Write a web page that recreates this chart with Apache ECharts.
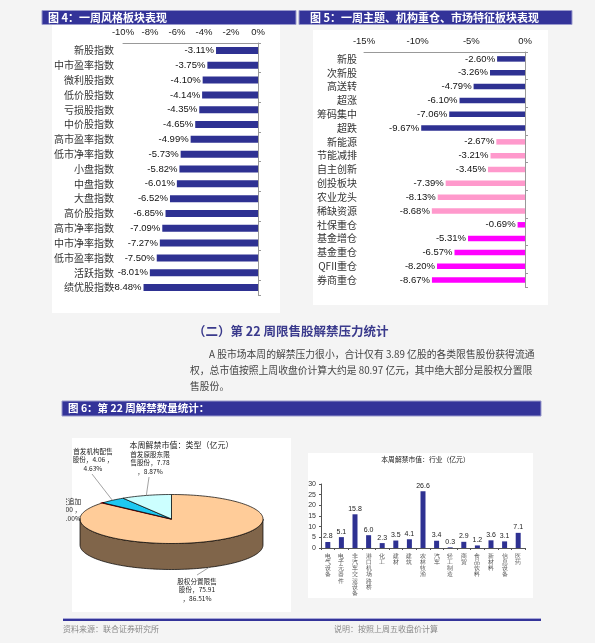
<!DOCTYPE html>
<html>
<head>
<meta charset="utf-8">
<script src="https://cdn.jsdelivr.net/npm/echarts@6/dist/echarts.min.js"></script>
<style>
  html, body { margin: 0; padding: 0; background: #f4f4f4; }
  #main { position: absolute; left: 0; top: 0; width: 595px; height: 643px; }
  #pie { position: absolute; left: 66px; top: 438px; width: 226px; height: 175px; }
</style>
</head>
<body>
<div id="main"></div>
<div id="pie"></div>
<script>
// 图4 一周风格板块表现
const styleCats = ['新股指数', '中市盈率指数', '微利股指数', '低价股指数', '亏损股指数', '中价股指数', '高市盈率指数',
  '低市净率指数', '小盘指数', '中盘指数', '大盘指数', '高价股指数', '高市净率指数', '中市净率指数', '低市盈率指数',
  '活跃指数', '绩优股指数'];
const styleVals = [-3.11, -3.75, -4.10, -4.14, -4.35, -4.65, -4.99, -5.73, -5.82, -6.01, -6.52, -6.85, -7.09, -7.27,
  -7.50, -8.01, -8.48];

// 图5 主题、机构重仓、市场特征
const themeCats = ['新股', '次新股', '高送转', '超涨', '筹码集中', '超跌', '新能源', '节能减排', '自主创新', '创投板块',
  '农业龙头', '稀缺资源', '社保重仓', '基金增仓', '基金重仓', 'QFII重仓', '券商重仓'];
const themeVals = [-2.60, -3.26, -4.79, -6.10, -7.06, -9.67, -2.67, -3.21, -3.45, -7.39, -8.13, -8.68, -0.69, -5.31,
  -6.57, -8.20, -8.67];
const themeGroups = ['特征', '特征', '特征', '特征', '特征', '特征', '主题', '主题', '主题', '主题', '主题', '主题',
  '重仓', '重仓', '重仓', '重仓', '重仓'];

// 解禁市值：行业（亿元）
const indCats = ['电气设备', '电子元器件', '非汽车交运设备', '港口机场路桥', '化工', '建材', '建筑', '农林牧渔', '汽车',
  '轻工制造', '商贸', '食品饮料', '新材料', '信息设备', '医药'];
const indVals = [2.8, 5.1, 15.8, 6.0, 2.3, 3.5, 4.1, 26.6, 3.4, 0.3, 2.9, 1.2, 3.6, 3.1, 7.1];

// 解禁市值：类型（亿元）
const pieNames = ['股权分置限售股份', '定向增发追加股份', '首发机构配售股份', '首发原股东限售股份'];
const pieVals = [75.91, 0.004, 4.06, 7.78];
const piePcts = [86.51, 0.00, 4.63, 8.87];

const CJK = '"Noto Sans CJK SC", sans-serif';
const LAT = '"Liberation Sans", Arial, sans-serif';
const NAVY = '#2e3192';
const groupColor = { '特征': NAVY, '主题': '#ff99cc', '重仓': '#ff00ff' };

function txt(x, y, text, size, color, opts) {
  opts = opts || {};
  return {
    type: 'text', x: x, y: y, z: 5,
    style: {
      text: text, fill: color,
      font: (opts.weight || 'normal') + ' ' + size + 'px ' + (opts.family || CJK),
      textAlign: opts.align || 'left', textVerticalAlign: 'middle', verticalAlign: 'middle'
    }
  };
}
function box(x, y, w, h, fill, stroke) {
  return { type: 'rect', z: 0, shape: { x: x, y: y, width: w, height: h },
    style: { fill: fill, stroke: stroke || null, lineWidth: stroke ? 1 : 0 } };
}

const main = echarts.init(document.getElementById('main'));
const pctLabel = p => p.value.toFixed(2) + '%';

main.setOption({
  animation: false,
  graphic: [
    box(52, 25, 228, 288, '#ffffff'),
    box(313, 30, 235, 275, '#ffffff'),
    box(72, 438, 219, 174, '#ffffff'),
    box(308, 453, 225, 145, '#ffffff'),
    box(42, 10.5, 254, 14, '#333399', '#9a9acc'),
    box(299, 10.5, 273, 14, '#333399', '#9a9acc'),
    box(62, 401, 479, 15, '#333399', '#9a9acc'),
    txt(48, 17.5, '图 4：一周风格板块表现', 11, '#ffffff', { weight: 'bold' }),
    txt(310, 17.5, '图 5：一周主题、机构重仓、市场特征板块表现', 11, '#ffffff', { weight: 'bold' }),
    txt(68, 408.5, '图 6：第 22 周解禁数量统计：', 10.5, '#ffffff', { weight: 'bold' }),
    txt(193, 331, '（二）第 22 周限售股解禁压力统计', 12.5, '#3a3a8c', { weight: 'bold' }),
    txt(209, 354, 'A 股市场本周的解禁压力很小，合计仅有 3.89 亿股的各类限售股份获得流通', 9.8, '#444444'),
    txt(190, 370, '权，总市值按照上周收盘价计算大约是 80.97 亿元，其中绝大部分是股权分置限', 9.8, '#444444'),
    txt(190, 386, '售股份。', 9.8, '#444444'),
    txt(425.5, 459, '本周解禁市值：行业（亿元）', 6.8, '#222222', { align: 'center' }),
    box(63, 618, 478, 1, '#a8a8d8'),
    box(63, 619, 478, 2, '#333399'),
    txt(63, 629, '资料来源：联合证券研究所', 8, '#8a8a8a'),
    txt(334, 629, '说明：按照上周五收盘价计算', 8, '#8a8a8a')
  ],
  grid: [
    { left: 123, top: 43, width: 135, height: 252 },
    { left: 364, top: 52, width: 161, height: 235 },
    { left: 321, top: 484, width: 204, height: 64 }
  ],
  xAxis: [
    { gridIndex: 0, type: 'value', position: 'top', min: -10, max: 0, interval: 2,
      axisLine: { show: true, lineStyle: { color: '#999999' } }, axisTick: { show: false }, splitLine: { show: false },
      axisLabel: { formatter: '{value}%', fontSize: 9.5, fontFamily: LAT, color: '#222222', margin: 6 } },
    { gridIndex: 1, type: 'value', position: 'top', min: -15, max: 0, interval: 5,
      axisLine: { show: true, lineStyle: { color: '#999999' } }, axisTick: { show: false }, splitLine: { show: false },
      axisLabel: { formatter: '{value}%', fontSize: 9.5, fontFamily: LAT, color: '#222222', margin: 6 } },
    { gridIndex: 2, type: 'category', data: indCats,
      axisLine: { lineStyle: { color: '#555555' } }, axisTick: { show: true, length: 2, lineStyle: { color: '#555555' } },
      axisLabel: { interval: 0, fontSize: 6, lineHeight: 6.2, color: '#555555', margin: 5, verticalAlign: 'top',
        formatter: v => v.split('').join('\n') } }
  ],
  yAxis: [
    { gridIndex: 0, type: 'category', data: styleCats, inverse: true, position: 'left',
      axisLine: { show: false }, axisTick: { show: false },
      axisLabel: { fontSize: 10, color: '#333333', margin: 9, fontFamily: CJK } },
    { gridIndex: 0, type: 'category', data: styleCats, inverse: true, position: 'right',
      axisLine: { show: true, lineStyle: { color: '#999999' } },
      axisTick: { show: true, length: 3, lineStyle: { color: '#999999' } }, axisLabel: { show: false } },
    { gridIndex: 1, type: 'category', data: themeCats, inverse: true, position: 'left',
      axisLine: { show: false }, axisTick: { show: false },
      axisLabel: { fontSize: 10, color: '#333333', margin: 7, fontFamily: CJK } },
    { gridIndex: 1, type: 'category', data: themeCats, inverse: true, position: 'right',
      axisLine: { show: true, lineStyle: { color: '#999999' } },
      axisTick: { show: true, length: 3, lineStyle: { color: '#999999' } }, axisLabel: { show: false } },
    { gridIndex: 2, type: 'value', min: 0, max: 30, interval: 5, splitLine: { show: false },
      axisLine: { show: true, lineStyle: { color: '#555555' } },
      axisTick: { show: true, length: 2, lineStyle: { color: '#555555' } },
      axisLabel: { fontSize: 7, fontFamily: LAT, color: '#333333', margin: 5 } }
  ],
  series: [
    { type: 'bar', xAxisIndex: 0, yAxisIndex: 0, data: styleVals, barWidth: 7,
      itemStyle: { color: NAVY },
      label: { show: true, position: 'left', distance: 2, formatter: pctLabel, fontSize: 9.5, fontFamily: LAT,
        color: '#111111' } },
    { type: 'bar', xAxisIndex: 1, yAxisIndex: 2, barWidth: 5.5,
      data: themeVals.map((v, i) => ({ value: v, itemStyle: { color: groupColor[themeGroups[i]] } })),
      label: { show: true, position: 'left', distance: 2, formatter: pctLabel, fontSize: 9.5, fontFamily: LAT,
        color: '#111111' } },
    { type: 'bar', xAxisIndex: 2, yAxisIndex: 4, data: indVals, barWidth: 5,
      itemStyle: { color: NAVY },
      label: { show: true, position: 'top', distance: 2, fontSize: 7, fontFamily: LAT, color: '#222222',
        formatter: p => p.value.toFixed(1) } }
  ]
});

// 3D-looking pie, drawn as elliptical sectors from the values
const pieColors = ['#ffcc99', '#800000', '#1ec8f2', '#ccffff'];
const sideColor = '#80654a';
const pieGeom = { cx: 105.5, cy: 81, rx: 91.5, ry: 24.5, depth: 26 };
// where each label's text block sits (local px); null = no leader line
const pieLabelPos = [
  { x: 131, y: 143, align: 'center', lineEnd: [131, 137] },
  { x: 15, y: 63, align: 'right', lineEnd: null },
  { x: 27, y: 13, align: 'center', lineEnd: [26, 36] },
  { x: 84, y: 16, align: 'center', lineEnd: [83, 39] }
];

function ellPt(deg, dz) {
  const r = deg * Math.PI / 180;
  return [pieGeom.cx + pieGeom.rx * Math.cos(r), pieGeom.cy - pieGeom.ry * Math.sin(r) + (dz || 0)];
}
function arcPts(a0, a1, dz) {
  const n = Math.max(2, Math.ceil(Math.abs(a1 - a0) / 2));
  const pts = [];
  for (let k = 0; k <= n; k++) pts.push(ellPt(a0 + (a1 - a0) * k / n, dz));
  return pts;
}

const pieTotal = pieVals.reduce((a, b) => a + b, 0);

function renderSlice(params) {
  const i = params.dataIndex;
  let before = 0;
  for (let k = 0; k < i; k++) before += pieVals[k];
  // clockwise from 12 o'clock
  const aStart = 90 - before / pieTotal * 360;
  const aEnd = 90 - (before + pieVals[i]) / pieTotal * 360;
  const children = [];
  // front side wall: angles in (-180, 0) + k*360
  [-360, 0, 360].forEach(off => {
    const lo = Math.max(aEnd, -180 + off), hi = Math.min(aStart, 0 + off);
    if (hi > lo) {
      const top = arcPts(hi, lo, 0);
      const bot = arcPts(lo, hi, pieGeom.depth);
      children.push({ type: 'polygon', shape: { points: top.concat(bot) },
        style: { fill: sideColor, stroke: '#000000', lineWidth: 0.7 } });
    }
  });
  const face = [[pieGeom.cx, pieGeom.cy]].concat(arcPts(aStart, aEnd, 0));
  children.push({ type: 'polygon', shape: { points: face },
    style: { fill: pieColors[i], stroke: i === 1 ? '#800000' : '#000000', lineWidth: i === 1 ? 1.6 : 0.7 } });

  const lp = pieLabelPos[i];
  const mid = (aStart + aEnd) / 2;
  const midN = ((mid % 360) + 360) % 360;
  const anchor = ellPt(mid, midN > 180 ? pieGeom.depth : 0);
  if (lp.lineEnd) {
    children.push({ type: 'polyline', shape: { points: [anchor, lp.lineEnd] },
      style: { stroke: '#8c8c8c', lineWidth: 0.8, fill: null } });
  }
  const name = pieNames[i];
  const val = pieVals[i].toFixed(2);
  const pct = piePcts[i].toFixed(2) + '%';
  const rest = name.slice(6);
  let lines;
  if (parseFloat(val) < 10 && rest.length <= 2) lines = [name.slice(0, 6), rest + '，' + val + ' ，', pct];
  else lines = [name.slice(0, 6), rest + '，' + val, '，' + pct];
  lines.forEach((t, j) => {
    children.push({ type: 'text', x: lp.x, y: lp.y + j * 8.8,
      style: { text: t, fill: '#222222', font: '6.6px ' + CJK, textAlign: lp.align,
        textVerticalAlign: 'middle', verticalAlign: 'middle' } });
  });
  return { type: 'group', children: children };
}

const pie = echarts.init(document.getElementById('pie'));
pie.setOption({
  animation: false,
  graphic: [txt(115.5, 7, '本周解禁市值：类型（亿元）', 8, '#222222', { align: 'center' })],
  series: [{ type: 'custom', coordinateSystem: 'none', data: pieVals, renderItem: renderSlice }]
});
</script>
</body>
</html>
